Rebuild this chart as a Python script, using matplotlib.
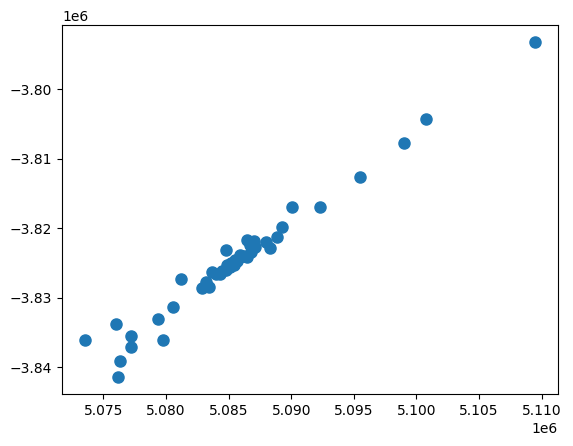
import matplotlib
matplotlib.use("Agg")
import matplotlib.pyplot as plt

x = [5.1095, 5.1008, 5.0990, 5.0955, 5.0923, 5.0901, 5.0893, 5.0889, 5.0883, 5.0880,
     5.0865, 5.0870, 5.0871, 5.0868, 5.0865, 5.0859, 5.0857, 5.0854, 5.0851, 5.0848,
     5.0845, 5.0843, 5.0840, 5.0837, 5.0848, 5.0832, 5.0834, 5.0829, 5.0812, 5.0806,
     5.0794, 5.0760, 5.0772, 5.0735, 5.0798, 5.0772, 5.0763, 5.0762,
     5.0867, 5.0862, 5.0855, 5.0859, 5.0852, 5.0849, 5.0867]
y = [-3.7932, -3.8043, -3.8078, -3.8126, -3.8170, -3.8170, -3.8198, -3.8213, -3.8229, -3.8220,
     -3.8217, -3.8218, -3.8227, -3.8234, -3.8241, -3.8241, -3.8247, -3.8253, -3.8256, -3.8260,
     -3.8262, -3.8265, -3.8265, -3.8263, -3.8231, -3.8277, -3.8284, -3.8286, -3.8273, -3.8313,
     -3.8331, -3.8338, -3.8355, -3.8361, -3.8360, -3.8370, -3.8390, -3.8414,
     -3.8224, -3.8240, -3.8246, -3.8238, -3.8250, -3.8253, -3.8220]

# values are in millions
x = [v * 1e6 for v in x]
y = [v * 1e6 for v in y]

fig = plt.figure(figsize=(5.73, 4.46), dpi=100)
ax = fig.add_axes([62 / 573, 1 - 394 / 446, 496 / 573, 369 / 446])
ax.scatter(x, y, s=64)

plt.savefig("out.png", dpi=100)
